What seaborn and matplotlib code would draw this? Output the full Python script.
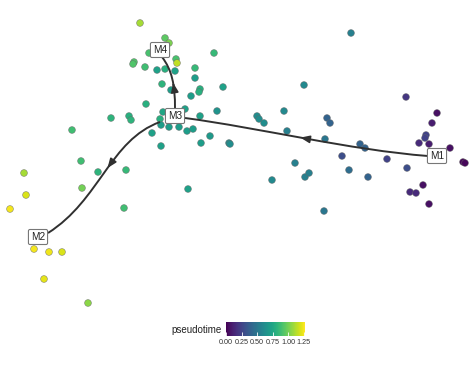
import numpy as np
import pandas as pd
import matplotlib
matplotlib.use("Agg")
import matplotlib.pyplot as plt
from matplotlib.path import Path
from matplotlib.patches import PathPatch
import seaborn as sns

# cell embedding (screen-like layout units) and pseudotime
comp_1 = [140, 165, 169, 149, 214, 134, 133, 176, 177, 145, 157, 165, 175, 195, 195,
          162, 171, 200, 199, 223, 191, 146, 185, 217, 111, 129, 131, 160, 163, 200,
          161, 169, 179, 187, 193, 210, 152, 201, 229, 161, 72, 81, 98, 126, 24,
          82, 188, 26, 10, 124, 34, 49, 62, 44, 88,
          351, 304, 406, 437, 432, 257, 259, 264, 284, 327, 330, 287, 325, 426, 425,
          419, 429, 450, 360, 365, 230, 342, 387, 438, 463, 465, 295, 349, 407, 368,
          272, 305, 309, 423, 410, 416, 429, 324]
comp_2 = [23, 38, 43, 53, 53, 62, 64, 59, 63, 67, 70, 69, 71, 68, 78,
          84, 90, 89, 92, 87, 96, 104, 109, 111, 118, 116, 120, 119, 112, 116,
          125, 127, 127, 131, 129, 136, 133, 143, 143, 146, 130, 161, 172, 170, 173,
          188, 189, 195, 209, 208, 249, 252, 252, 279, 303,
          33, 85, 97, 113, 123, 116, 119, 123, 111, 118, 123, 131, 139, 135, 138,
          143, 144, 148, 144, 148, 144, 156, 159, 160, 162, 163, 163, 170, 168, 177,
          180, 177, 173, 185, 192, 193, 204, 211]
pseudotime = [1.1, 0.95, 1.02, 0.9, 0.85, 0.92, 0.92, 0.9, 1.15, 0.88, 0.72, 0.8, 0.72, 0.85, 0.7,
              0.82, 0.7, 0.8, 0.8, 0.72, 0.7, 0.8, 0.72, 0.65, 0.82, 0.8, 0.82, 0.8, 0.75, 0.72,
              0.7, 0.7, 0.7, 0.7, 0.7, 0.68, 0.72, 0.7, 0.62, 0.72, 0.88, 0.88, 0.82, 0.85, 1.1,
              1.0, 0.72, 1.2, 1.25, 0.88, 1.25, 1.24, 1.2, 1.22, 1.05,
              0.55, 0.6, 0.2, 0.05, 0.1, 0.62, 0.62, 0.62, 0.6, 0.4, 0.4, 0.55, 0.5, 0.25, 0.25,
              0.15, 0.1, 0.05, 0.4, 0.4, 0.62, 0.3, 0.25, 0.05, 0.02, 0.02, 0.55, 0.45, 0.3, 0.4,
              0.6, 0.55, 0.55, 0.05, 0.15, 0.15, 0.05, 0.5]

# milestones and trajectory edges (cubic control points)
milestones = ["M1", "M2", "M3", "M4"]
milestone_x = [437, 38, 175, 160]
milestone_y = [156, 237, 116, 50]
edges = {
    ("M1", "M3"): [(428, 156), (350, 150), (260, 128), (185, 118)],
    ("M3", "M4"): [(175, 108), (175, 85), (172, 70), (162, 57)],
    ("M3", "M2"): [(160, 122), (110, 140), (100, 200), (48, 233)],
}
arrow_t = {("M1", "M3"): 0.5, ("M3", "M4"): 0.4, ("M3", "M2"): 0.45}

vmax = 1.27
cbar_ticks = [0.0, 0.25, 0.5, 0.75, 1.0, 1.25]

plt.rcParams["font.family"] = ["Liberation Sans", "DejaVu Sans"]

df = pd.DataFrame({"comp_1": comp_1, "comp_2": comp_2, "pseudotime": pseudotime})

fig = plt.figure(figsize=(4.74, 3.68), dpi=100)
ax = fig.add_axes([0, 0, 1, 1])
ax.set_xlim(0, 474)
ax.set_ylim(368, 0)
ax.axis("off")

sns.scatterplot(data=df, x="comp_1", y="comp_2", hue="pseudotime", palette="viridis",
                hue_norm=(0, vmax), s=24, edgecolor="#666666", linewidth=0.3,
                legend=False, ax=ax, zorder=2)


def bez(p, t):
    p = np.array(p, dtype=float)
    return ((1 - t) ** 3 * p[0] + 3 * (1 - t) ** 2 * t * p[1]
            + 3 * (1 - t) * t ** 2 * p[2] + t ** 3 * p[3])


for key, pts in edges.items():
    path = Path(pts, [Path.MOVETO, Path.CURVE4, Path.CURVE4, Path.CURVE4])
    ax.add_patch(PathPatch(path, facecolor="none", edgecolor="#303030", lw=1.4, zorder=3))
    t = arrow_t[key]
    a, b = bez(pts, t - 0.02), bez(pts, t + 0.02)
    ax.annotate("", xy=b, xytext=a,
                arrowprops=dict(arrowstyle="-|>,head_length=0.55,head_width=0.22",
                                color="#303030", lw=1.2, shrinkA=0, shrinkB=0),
                zorder=4)

for name, mx, my in zip(milestones, milestone_x, milestone_y):
    ax.text(mx, my, name, ha="center", va="center", fontsize=7.2, color="#222222", zorder=5,
            bbox=dict(boxstyle="round,pad=0.25,rounding_size=0.15", fc="white",
                      ec="#777777", lw=0.8))

# colour bar
cax = fig.add_axes([226 / 474, (368 - 336) / 368, 79 / 474, 14 / 368])
sm = plt.cm.ScalarMappable(cmap="viridis", norm=plt.Normalize(0, vmax))
cb = fig.colorbar(sm, cax=cax, orientation="horizontal", ticks=cbar_ticks)
cb.outline.set_visible(False)
cax.tick_params(axis="x", length=3, width=0.6, color="white", direction="in",
                labelsize=5.2, labelcolor="#333333", pad=2.5)
cax.set_xticklabels([f"{v:.2f}" for v in cbar_ticks])
fig.text(222 / 474, 1 - 330 / 368, "pseudotime", ha="right", va="center",
         fontsize=7, color="#222222")

fig.savefig("out.png", dpi=100)
